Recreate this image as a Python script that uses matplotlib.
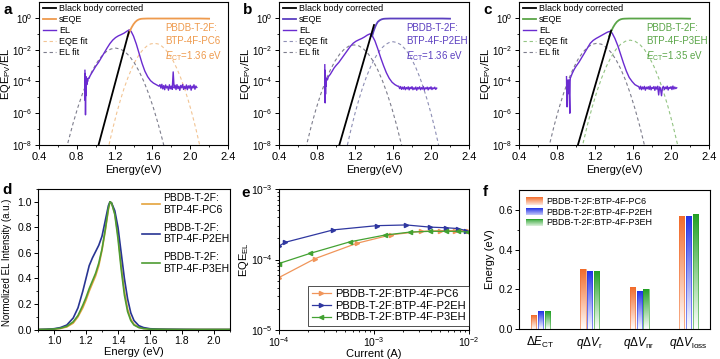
"""
Six-panel figure: EQE/EL spectra (a-c), normalized EL (d),
EQE_EL vs current (e) and voltage-loss bars (f).
"""

import matplotlib
matplotlib.use("Agg")
import matplotlib.pyplot as plt
from matplotlib.colors import LinearSegmentedColormap
from matplotlib.legend_handler import HandlerBase
from matplotlib.patches import Patch, Rectangle
from matplotlib.ticker import FixedLocator, MultipleLocator, LogLocator, NullFormatter
import numpy as np


# ---------------- panel a-c data (log10 values) ----------------
A_EL_E = [0.886, 0.888, 0.889, 0.890, 0.891, 0.892, 0.894, 0.896, 0.898, 0.900,
          0.903, 0.906, 0.910, 0.915, 0.92, 0.93, 0.94, 0.96, 0.98, 1.00,
          1.03, 1.06, 1.09, 1.12, 1.15, 1.18, 1.21, 1.24, 1.27, 1.30,
          1.33, 1.355, 1.375, 1.40, 1.43, 1.46, 1.49, 1.52, 1.55, 1.58,
          1.61, 1.64, 1.67]
A_EL_LOG = [-3.3, -4.3, -3.5, -5.2, -3.8, -6.1, -4.0, -4.9, -3.7, -4.4,
            -3.8, -4.2, -3.9, -4.0, -3.8, -3.8, -3.65, -3.45, -3.25, -3.05,
            -2.8, -2.5, -2.2, -1.9, -1.62, -1.4, -1.24, -1.13, -1.05, -0.96,
            -0.84, -0.75, -0.85, -1.15, -1.65, -2.25, -2.85, -3.35, -3.7, -3.95,
            -4.1, -4.2, -4.3]
A_TAIL_LOG = [-4.20, -4.42, -4.18, -4.47, -4.26, -4.52, -4.22, -4.41, -4.31, -4.55,
              -4.21, -4.46, -4.30, -4.50, -3.40, -4.42, -4.24, -4.51, -4.20, -4.45,
              -4.30, -4.56, -4.25, -4.40, -4.19, -4.50, -4.31, -4.46, -4.22, -4.52,
              -4.28, -4.42, -4.24, -4.55, -4.30, -4.41, -4.21, -4.49, -4.29, -4.38]
A_TAIL_RANGE = (1.68, 2.07)

B_EL_E = [0.882, 0.884, 0.885, 0.886, 0.888, 0.890, 0.892, 0.895, 0.90, 0.91,
          0.92, 0.94, 0.96, 0.98, 1.00, 1.03, 1.06, 1.09, 1.12, 1.15,
          1.18, 1.21, 1.24, 1.27, 1.30, 1.33, 1.36, 1.38, 1.41, 1.44,
          1.47, 1.50, 1.53, 1.56, 1.59, 1.62, 1.65]
B_EL_LOG = [-2.95, -4.5, -3.3, -5.35, -3.6, -4.8, -3.9, -4.3, -3.8, -3.9,
            -3.7, -3.55, -3.35, -3.15, -3.0, -2.8, -2.55, -2.3, -2.05, -1.8,
            -1.6, -1.47, -1.38, -1.3, -1.2, -1.08, -1.0, -1.1, -1.45, -1.95,
            -2.5, -3.0, -3.45, -3.8, -4.05, -4.2, -4.3]
B_TAIL_LOG = [-4.30, -4.45, -4.32, -4.50, -4.36, -4.48, -4.33, -4.52, -4.38, -4.47,
              -4.34, -4.53, -4.37, -4.46, -4.33, -4.52, -4.40, -4.49, -4.35, -4.55,
              -4.38, -4.47, -4.34, -4.52, -4.39, -4.48, -4.33, -4.54, -4.40, -4.46,
              -4.36, -4.53, -4.38, -4.47, -4.34, -4.51, -4.40, -4.46, -4.36, -4.50, -4.42]
B_TAIL_RANGE = (1.66, 2.06)

C_EL_E = [0.900, 0.902, 0.904, 0.906, 0.908, 0.912, 0.915, 0.920, 0.925, 0.935,
          0.938, 0.94, 0.96, 0.98, 1.00, 1.03, 1.06, 1.09, 1.12, 1.15,
          1.18, 1.21, 1.24, 1.27, 1.30, 1.33, 1.355, 1.38, 1.41, 1.44,
          1.47, 1.50, 1.53, 1.56, 1.59, 1.62, 1.65]
C_EL_LOG = [-3.7, -4.6, -3.9, -5.6, -4.0, -4.8, -4.1, -4.5, -3.9, -6.0,
            -4.0, -3.8, -3.5, -3.25, -3.05, -2.8, -2.5, -2.2, -1.9, -1.6,
            -1.42, -1.3, -1.2, -1.1, -1.0, -0.9, -0.85, -0.95, -1.3, -1.75,
            -2.3, -2.85, -3.35, -3.75, -4.0, -4.2, -4.3]
C_TAIL_LOG = [-4.32, -4.48, -4.30, -4.52, -4.35, -4.47, -4.31, -4.55, -4.36, -4.46,
              -4.33, -4.50, -4.29, -4.53, -4.37, -4.45, -4.32, -4.56, -4.34, -4.48,
              -4.30, -4.85, -4.35, -4.47, -4.90, -4.40, -4.31, -4.52, -4.36, -4.46,
              -4.30, -4.54, -4.37, -4.44, -4.33, -4.51, -4.29, -4.48, -4.35, -4.45, -4.40]
C_TAIL_RANGE = (1.66, 2.06)

# black-body corrected EQE (straight segment on log scale)
A_BB_E, A_BB_LOG = [1.03, 1.35], [-8.0, -0.9]
B_BB_E, B_BB_LOG = [1.035, 1.40], [-8.0, -0.45]
C_BB_E, C_BB_LOG = [1.02, 1.37], [-8.0, -0.8]

# sEQE
SEQE_LOG = [-1.15, -0.85, -0.6, -0.4, -0.25, -0.15, -0.09, -0.06, -0.05, -0.04,
            -0.04, -0.04, -0.04, -0.04, -0.04, -0.04, -0.05]
A_SEQE_E = [1.34, 1.36, 1.38, 1.40, 1.42, 1.44, 1.46, 1.48, 1.50, 1.55,
            1.60, 1.70, 1.80, 1.90, 2.00, 2.10, 2.20]
B_SEQE_E = [1.38, 1.395, 1.41, 1.425, 1.44, 1.46, 1.48, 1.50, 1.52, 1.57,
            1.62, 1.72, 1.82, 1.92, 2.02, 2.12, 2.20]
C_SEQE_E = [1.35, 1.37, 1.39, 1.41, 1.43, 1.45, 1.47, 1.49, 1.51, 1.56,
            1.61, 1.71, 1.81, 1.91, 2.01, 2.11, 2.20]

# Marcus fits
A_EQEFIT_RANGE = (1.10, 2.14)
A_EQEFIT_LOG = [-9.1, -8.0, -6.98, -6.04, -5.2, -4.44, -3.78, -3.2, -2.71, -2.31,
                -2.0, -1.78, -1.64, -1.6, -1.64, -1.78, -2.0, -2.31, -2.71, -3.2,
                -3.78, -4.44, -5.2, -6.04, -6.98, -8.0, -9.1]
A_ELFIT_RANGE = (0.66, 1.76)
A_ELFIT_LOG = [-9.0, -7.76, -6.65, -5.65, -4.77, -4.01, -3.37, -2.84, -2.43, -2.13,
               -1.96, -1.9, -1.96, -2.13, -2.43, -2.84, -3.37, -4.01, -4.77, -5.65,
               -6.65, -7.76, -9.0]
B_EQEFIT_RANGE = (1.08, 2.12)
B_EQEFIT_LOG = [-9.13, -8.0, -6.96, -6.01, -5.16, -4.39, -3.71, -3.13, -2.63, -2.22,
                -1.91, -1.68, -1.55, -1.5, -1.55, -1.68, -1.91, -2.22, -2.63, -3.13,
                -3.71, -4.39, -5.16, -6.01, -6.96, -8.0, -9.13]
B_ELFIT_RANGE = (0.64, 1.74)
B_ELFIT_LOG = [-9.32, -8.0, -6.8, -5.73, -4.79, -3.97, -3.28, -2.71, -2.27, -1.95,
               -1.76, -1.7, -1.76, -1.95, -2.27, -2.71, -3.28, -3.97, -4.79, -5.73,
               -6.8, -8.0, -9.32]
C_EQEFIT_RANGE = (1.02, 2.12)
C_EQEFIT_LOG = [-9.39, -8.0, -6.75, -5.62, -4.63, -3.78, -3.05, -2.46, -1.99, -1.66,
                -1.47, -1.4, -1.47, -1.66, -1.99, -2.46, -3.05, -3.78, -4.63, -5.62,
                -6.75, -8.0, -9.39]
C_ELFIT_RANGE = (0.67, 1.77)
C_ELFIT_LOG = [-9.34, -8.0, -6.78, -5.7, -4.74, -3.9, -3.2, -2.62, -2.18, -1.86,
               -1.66, -1.6, -1.66, -1.86, -2.18, -2.62, -3.2, -3.9, -4.74, -5.7,
               -6.78, -8.0, -9.34]

BLENDS = ["PBDB-T-2F:BTP-4F-PC6", "PBDB-T-2F:BTP-4F-P2EH", "PBDB-T-2F:BTP-4F-P3EH"]
E_CT = ["1.36", "1.36", "1.35"]

# ---------------- panel d ----------------
D_ENERGY = [0.90, 0.95, 1.00, 1.04, 1.08, 1.12, 1.15, 1.18, 1.20, 1.22,
            1.24, 1.26, 1.28, 1.30, 1.32, 1.34, 1.35, 1.36, 1.38, 1.40,
            1.42, 1.44, 1.46, 1.48, 1.50, 1.53, 1.56, 1.60, 1.65, 1.70,
            1.80, 1.90, 2.00, 2.10]
D_PC6 = [0.0, 0.001, 0.003, 0.008, 0.02, 0.05, 0.10, 0.17, 0.23, 0.30,
         0.36, 0.42, 0.50, 0.62, 0.77, 0.94, 1.0, 0.99, 0.91, 0.74,
         0.50, 0.30, 0.16, 0.08, 0.04, 0.017, 0.008, 0.004, 0.002, 0.001,
         0.0, 0.0, 0.0, 0.0]
D_P2EH = [0.0, 0.002, 0.006, 0.015, 0.035, 0.09, 0.17, 0.30, 0.40, 0.50,
          0.56, 0.61, 0.66, 0.73, 0.85, 0.97, 1.0, 0.99, 0.93, 0.80,
          0.60, 0.40, 0.24, 0.13, 0.07, 0.03, 0.015, 0.006, 0.003, 0.002,
          0.001, 0.0, 0.0, 0.0]
D_P3EH = [0.0, 0.001, 0.004, 0.01, 0.025, 0.06, 0.11, 0.19, 0.25, 0.32,
          0.38, 0.44, 0.52, 0.63, 0.78, 0.95, 1.0, 0.99, 0.90, 0.71,
          0.47, 0.27, 0.14, 0.07, 0.035, 0.015, 0.007, 0.003, 0.002, 0.001,
          0.0, 0.0, 0.0, 0.0]

# ---------------- panel e ----------------
E_CUR_PC6 = [1.0e-4, 2.40e-4, 6.61e-4, 1.51e-3, 3.16e-3, 5.01e-3, 7.08e-3, 9.77e-3]
E_EQE_PC6 = [5.55e-5, 1.03e-4, 1.70e-4, 2.24e-4, 2.51e-4, 2.57e-4, 2.57e-4, 2.57e-4]
E_CUR_P2EH = [1.0e-4, 1.156e-4, 3.72e-4, 1.07e-3, 2.19e-3, 3.89e-3, 5.75e-3, 7.59e-3, 9.33e-3]
E_EQE_P2EH = [1.55e-4, 1.75e-4, 2.63e-4, 3.02e-4, 3.09e-4, 2.88e-4, 2.82e-4, 2.75e-4, 2.57e-4]
E_CUR_P3EH = [1.0e-4, 2.12e-4, 5.57e-4, 1.30e-3, 2.40e-3, 3.89e-3, 5.75e-3, 7.59e-3, 9.77e-3]
E_EQE_P3EH = [8.77e-5, 1.22e-4, 1.78e-4, 2.22e-4, 2.45e-4, 2.51e-4, 2.51e-4, 2.51e-4, 2.45e-4]

# ---------------- panel f ----------------
F_CATEGORIES = [r"$\Delta E_{\rm CT}$", r"$q\Delta V_{\rm r}$",
                r"$q\Delta V_{\rm nr}$", r"$q\Delta V_{\rm loss}$"]
F_PC6 = [0.07, 0.30, 0.21, 0.57]
F_P2EH = [0.09, 0.29, 0.19, 0.57]
F_P3EH = [0.09, 0.29, 0.20, 0.58]

EL_COLOR = "#6a2bd0"
SEQE_COLORS = ["#ee9a4d", "#5b3fc0", "#5aa548"]
EQEFIT_COLORS = ["#f2c493", "#8e8fb5", "#93c483"]
ELFIT_COLOR = "#7d7d8c"
D_COLORS = ["#e4a33c", "#283593", "#4e9c32"]
E_COLORS = ["#f0955a", "#2f37a0", "#43a232"]
F_COLORS = ["#f26b2a", "#2232e6", "#22a024"]

plt.rcParams.update({
    "font.family": ["Liberation Sans", "DejaVu Sans"],
    "mathtext.fontset": "custom",
    "mathtext.rm": "Liberation Sans",
    "mathtext.it": "Liberation Sans:italic",
    "mathtext.bf": "Liberation Sans:bold",
    "axes.linewidth": 0.8,
    "xtick.direction": "out",
    "ytick.direction": "out",
    "xtick.major.size": 3,
    "ytick.major.size": 3,
    "xtick.minor.size": 1.6,
    "ytick.minor.size": 1.6,
    "xtick.major.width": 0.7,
    "ytick.major.width": 0.7,
    "xtick.minor.width": 0.6,
    "ytick.minor.width": 0.6,
    "xtick.major.pad": 2,
    "ytick.major.pad": 1.5,
    "xtick.labelsize": 8,
    "ytick.labelsize": 7.5,
    "axes.labelsize": 8,
    "axes.labelpad": 2,
})

fig = plt.figure(figsize=(7.2, 3.59), dpi=100)

W, H = 720.0, 359.0


def add_axes(left, top, right, bottom):
    return fig.add_axes([left / W, 1 - bottom / H, (right - left) / W, (bottom - top) / H])


def spectrum_panel(ax, el_e, el_log, tail_log, tail_range, bb_e, bb_log, seqe_e,
                   eqefit_range, eqefit_log, elfit_range, elfit_log, idx):
    tail_e = np.linspace(tail_range[0], tail_range[1], len(tail_log))
    el_x = list(el_e) + list(tail_e)
    el_y = 10 ** np.array(list(el_log) + list(tail_log))
    eqefit_e = np.linspace(eqefit_range[0], eqefit_range[1], len(eqefit_log))
    elfit_e = np.linspace(elfit_range[0], elfit_range[1], len(elfit_log))

    ax.plot(eqefit_e, 10 ** np.array(eqefit_log), ls=(0, (3, 2.5)), lw=0.8,
            color=EQEFIT_COLORS[idx], label="EQE fit")
    ax.plot(elfit_e, 10 ** np.array(elfit_log), ls=(0, (3, 2.5)), lw=0.8,
            color=ELFIT_COLOR, label="EL fit")
    ax.plot(el_x, el_y, color=EL_COLOR, lw=1.0, label="EL")
    ax.plot(seqe_e, 10 ** np.array(SEQE_LOG), color=SEQE_COLORS[idx], lw=1.3, label="sEQE")
    ax.plot(bb_e, 10 ** np.array(bb_log), color="black", lw=1.3, label="Black body corrected")

    ax.set_yscale("log")
    ax.set_xlim(0.4, 2.4)
    ax.set_ylim(1e-8, 1e1)
    ax.xaxis.set_major_locator(MultipleLocator(0.4))
    ax.xaxis.set_minor_locator(MultipleLocator(0.2))
    ax.yaxis.set_major_locator(FixedLocator([1e-8, 1e-6, 1e-4, 1e-2, 1e0]))
    ax.yaxis.set_minor_locator(FixedLocator([1e-7, 1e-5, 1e-3, 1e-1]))
    ax.yaxis.set_minor_formatter(NullFormatter())
    ax.tick_params(axis="y", labelsize=7)
    ax.set_xlabel("Energy(eV)")
    ax.set_ylabel(r"EQE$_{\rm PV}$/EL", va="center")
    ax.yaxis.set_label_coords(-0.172, 0.5)

    handles, labels = ax.get_legend_handles_labels()
    order = [4, 3, 2, 0, 1]
    ax.legend([handles[i] for i in order], [labels[i] for i in order],
              loc="upper left", bbox_to_anchor=(-0.01, 1.025), frameon=False,
              fontsize=6.5, handlelength=1.5, handletextpad=0.3, labelspacing=0.22,
              borderaxespad=0.2)
    blend = BLENDS[idx].split(":")
    ax.text(0.668, 0.715, "%s:\n%s\n$E_{\\rm CT}$=%s eV" % (blend[0], blend[1], E_CT[idx]),
            transform=ax.transAxes, ha="left", va="center", fontsize=7,
            color=SEQE_COLORS[idx], linespacing=1.35)


ax_a = add_axes(39, 2, 228, 145)
spectrum_panel(ax_a, A_EL_E, A_EL_LOG, A_TAIL_LOG, A_TAIL_RANGE, A_BB_E, A_BB_LOG,
               A_SEQE_E, A_EQEFIT_RANGE, A_EQEFIT_LOG, A_ELFIT_RANGE, A_ELFIT_LOG, 0)
ax_b = add_axes(279, 2, 469, 145)
spectrum_panel(ax_b, B_EL_E, B_EL_LOG, B_TAIL_LOG, B_TAIL_RANGE, B_BB_E, B_BB_LOG,
               B_SEQE_E, B_EQEFIT_RANGE, B_EQEFIT_LOG, B_ELFIT_RANGE, B_ELFIT_LOG, 1)
ax_c = add_axes(519, 2, 709, 145)
spectrum_panel(ax_c, C_EL_E, C_EL_LOG, C_TAIL_LOG, C_TAIL_RANGE, C_BB_E, C_BB_LOG,
               C_SEQE_E, C_EQEFIT_RANGE, C_EQEFIT_LOG, C_ELFIT_RANGE, C_ELFIT_LOG, 2)

# ---- d ----
ax_d = add_axes(38, 189, 230, 329.5)
d_labels = [b.replace(":", ":\n") for b in BLENDS]
for vals, color, label in zip([D_PC6, D_P2EH, D_P3EH], D_COLORS, d_labels):
    ax_d.plot(D_ENERGY, vals, color=color, lw=1.2, label=label)
ax_d.set_xlim(0.9, 2.1)
ax_d.set_ylim(0, 1.1)
ax_d.xaxis.set_major_locator(FixedLocator([1.0, 1.2, 1.4, 1.6, 1.8, 2.0]))
ax_d.xaxis.set_minor_locator(MultipleLocator(0.1))
ax_d.yaxis.set_major_locator(MultipleLocator(0.2))
ax_d.yaxis.set_minor_locator(MultipleLocator(0.1))
ax_d.tick_params(axis="x", labelsize=7.5, pad=1.5)
ax_d.set_xlabel("Energy (eV)", labelpad=1)
ax_d.set_ylabel("Normolized EL Intensity (a.u.)", fontsize=7, va="center")
ax_d.yaxis.set_label_coords(-0.16, 0.48)
ax_d.legend(loc="upper right", bbox_to_anchor=(1.03, 1.015), frameon=False, fontsize=7.5,
            handlelength=1.7, handletextpad=0.35, labelspacing=0.75, borderaxespad=0.2)

# ---- e ----
ax_e = add_axes(279, 189, 469, 330)
for cur, eqe, color, marker, label in zip(
        [E_CUR_PC6, E_CUR_P2EH, E_CUR_P3EH], [E_EQE_PC6, E_EQE_P2EH, E_EQE_P3EH],
        E_COLORS, [">", ">", "<"], BLENDS):
    ax_e.plot(cur, eqe, color=color, lw=0.9, marker=marker, ms=3, label=label)
ax_e.set_xscale("log")
ax_e.set_yscale("log")
ax_e.set_xlim(1e-4, 1e-2)
ax_e.set_ylim(1e-5, 1e-3)
ax_e.xaxis.set_minor_locator(LogLocator(base=10, subs=np.arange(2, 10)))
ax_e.yaxis.set_minor_locator(LogLocator(base=10, subs=np.arange(2, 10)))
ax_e.xaxis.set_minor_formatter(NullFormatter())
ax_e.yaxis.set_minor_formatter(NullFormatter())
ax_e.tick_params(axis="x", labelsize=7.5, pad=1)
ax_e.set_xlabel("Current (A)", labelpad=0)
ax_e.set_ylabel(r"EQE$_{\rm EL}$", labelpad=0)
leg = ax_e.legend(loc="lower right", bbox_to_anchor=(1.0, 0.03), fontsize=8, fancybox=False,
                  edgecolor="black", handlelength=1.7, handletextpad=0.4, labelspacing=0.15,
                  borderpad=0.3, borderaxespad=0.0)
leg.get_frame().set_linewidth(0.6)

# ---- f ----
ax_f = add_axes(519, 190, 710, 329)
x = np.arange(len(F_CATEGORIES))
bar_w = 0.105
offsets = [-0.14, 0.0, 0.14]


class GradientHandler(HandlerBase):
    def create_artists(self, legend, orig_handle, xdescent, ydescent, width, height,
                       fontsize, trans):
        cmap = LinearSegmentedColormap.from_list("fade", ["white", orig_handle.get_facecolor()])
        n = 8
        strips = []
        for i in range(n):
            strips.append(Rectangle((-xdescent, -ydescent + i * height / n), width, height / n,
                                    facecolor=cmap(0.15 + 0.85 * (i + 0.5) / n),
                                    edgecolor="none", transform=trans))
        return strips


grad = np.linspace(0, 1, 256).reshape(-1, 1)
for vals, color, off in zip([F_PC6, F_P2EH, F_P3EH], F_COLORS, offsets):
    cmap = LinearSegmentedColormap.from_list("fade", ["white", color])
    bars = ax_f.bar(x + off, vals, bar_w, facecolor="none", edgecolor=color, lw=0.4, zorder=3)
    for rect in bars:
        x0 = rect.get_x()
        im = ax_f.imshow(grad, cmap=cmap, origin="lower", aspect="auto", zorder=2,
                         extent=(x0, x0 + rect.get_width(), 0, rect.get_height()))
        im.set_clip_path(rect)
ax_f.set_xlim(-0.44, 3.44)
ax_f.set_ylim(0, 0.7)
ax_f.set_aspect("auto")
ax_f.set_xticks(x)
ax_f.set_xticklabels(F_CATEGORIES, fontsize=8.5)
ax_f.tick_params(axis="x", length=0, pad=4)
ax_f.yaxis.set_major_locator(FixedLocator([0.0, 0.2, 0.4, 0.6]))
ax_f.yaxis.set_minor_locator(FixedLocator([0.1, 0.3, 0.5]))
ax_f.set_ylabel("Energy (eV)")
proxies = [Patch(facecolor=c, label=l) for c, l in zip(F_COLORS, BLENDS)]
ax_f.legend(handles=proxies, handler_map={Patch: GradientHandler()}, loc="upper left",
            bbox_to_anchor=(0.0, 1.0), frameon=False, fontsize=6.5, handlelength=1.9,
            handleheight=0.9, handletextpad=0.35, labelspacing=0.18, borderaxespad=0.4)

# panel letters
for letter, (px, py) in zip("abcdef", [(3, 3), (243, 3), (483, 3), (2, 183), (241, 186), (483, 185)]):
    fig.text(px / W, 1 - py / H, letter, fontsize=11, fontweight="bold", ha="left", va="top")

fig.savefig("out.png", dpi=100)
